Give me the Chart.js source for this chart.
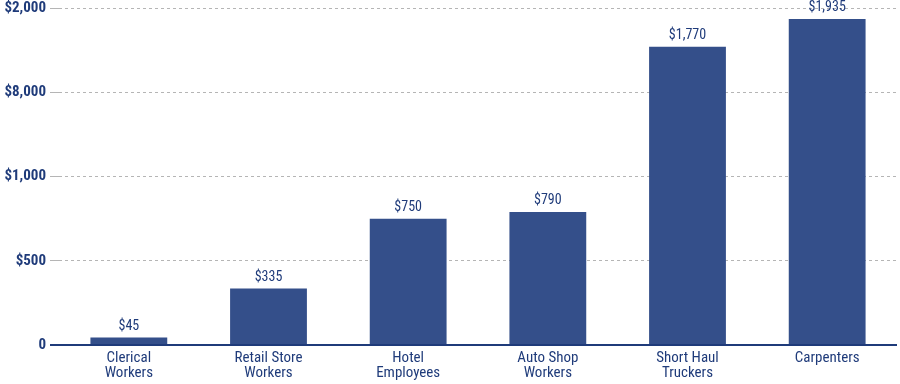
<!DOCTYPE html>
<html>
<head>
<meta charset="utf-8">
<script src="https://cdn.jsdelivr.net/npm/chart.js@4"></script>
<style>
  html, body { margin: 0; padding: 0; background: #fff; }
  #wrap { width: 900px; height: 384px; }
</style>
</head>
<body>
<div id="wrap"><canvas id="payChart"></canvas></div>
<script>
const categories = [
  ["Clerical", "Workers"],
  ["Retail Store", "Workers"],
  ["Hotel", "Employees"],
  ["Auto Shop", "Workers"],
  ["Short Haul", "Truckers"],
  ["Carpenters"]
];
const values = [45, 335, 750, 790, 1770, 1935];
const valueLabels = ["$45", "$335", "$750", "$790", "$1,770", "$1,935"];
const tickValues = [0, 500, 1000, 1500, 2000];
const tickLabels = ["0", "$500", "$1,000", "$8,000", "$2,000"];

const navy = "#1f3b7a";
const barColor = "#344f8a";
const fontFamily = "'Liberation Sans Narrow', 'Roboto Condensed', Roboto, sans-serif";

// draw the value above each bar
const barValues = {
  id: "barValues",
  afterDatasetsDraw(chart) {
    const ctx = chart.ctx;
    const meta = chart.getDatasetMeta(0);
    ctx.save();
    ctx.font = "14px " + fontFamily;
    ctx.fillStyle = navy;
    ctx.textAlign = "center";
    ctx.textBaseline = "bottom";
    meta.data.forEach((bar, i) => {
      ctx.fillText(valueLabels[i], bar.x, bar.y - 4);
    });
    ctx.restore();
  }
};

const ctx = document.getElementById("payChart").getContext("2d");
new Chart(ctx, {
  type: "bar",
  data: {
    labels: categories,
    datasets: [{
      data: values,
      backgroundColor: barColor,
      categoryPercentage: 1,
      barPercentage: 0.55
    }]
  },
  options: {
    responsive: true,
    maintainAspectRatio: false,
    animation: false,
    layout: { padding: { top: 0, right: 3, left: 0, bottom: 0 } },
    plugins: {
      legend: { display: false },
      tooltip: { enabled: false }
    },
    scales: {
      x: {
        afterFit(scale) { scale.height = 39; },
        grid: { display: false, drawTicks: false },
        border: { display: false },
        ticks: {
          color: navy,
          padding: 5,
          maxRotation: 0,
          autoSkip: false,
          font: { family: fontFamily, size: 15, lineHeight: 1.05 }
        }
      },
      y: {
        min: 0,
        max: 2000,
        afterFit(scale) {
          scale.width = 59;
          scale.paddingTop = 8;
        },
        afterBuildTicks(scale) {
          scale.ticks = tickValues.map(v => ({ value: v }));
        },
        border: {
          display: false,
          dash: c => (c.tick && c.tick.value === 0) ? [] : [3, 3]
        },
        grid: {
          color: c => (c.tick && c.tick.value === 0) ? navy : "#b5b5b5",
          lineWidth: c => (c.tick && c.tick.value === 0) ? 2 : 1,
          tickLength: 9
        },
        ticks: {
          color: navy,
          padding: 4,
          font: { family: fontFamily, size: 15, weight: "bold" },
          callback: (v, i) => tickLabels[i]
        }
      }
    }
  },
  plugins: [barValues]
});
</script>
</body>
</html>
